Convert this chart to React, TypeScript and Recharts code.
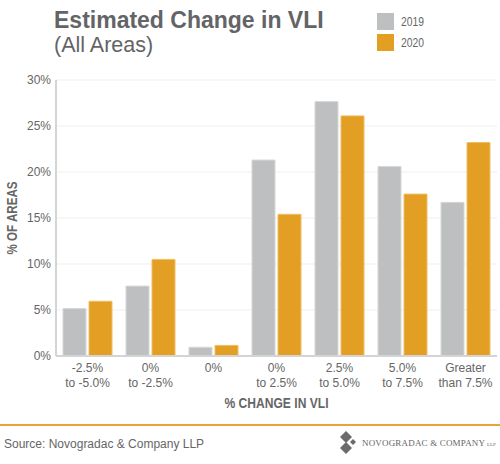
import React from 'react'
import { BarChart, Bar, XAxis, YAxis, CartesianGrid, Legend, Label } from 'recharts'

// categories (two-line tick labels split on \n)
const categories = [
  '-2.5%\nto -5.0%',
  '0%\nto -2.5%',
  '0%',
  '0%\nto 2.5%',
  '2.5%\nto 5.0%',
  '5.0%\nto 7.5%',
  'Greater\nthan 7.5%',
]
const values2019 = [5.15, 7.6, 0.95, 21.3, 27.65, 20.6, 16.7]
const values2020 = [5.95, 10.5, 1.15, 15.4, 26.1, 17.6, 23.2]
const yTicks = [0, 5, 10, 15, 20, 25, 30]

const chartData = categories.map((c, i) => ({
  name: c,
  y2019: values2019[i],
  y2020: values2020[i],
}))

const GRAY = '#BEBFC1'
const ORANGE = '#E39F24'
const TEXT = '#666666'
const FONT = '"Liberation Sans", Arial, sans-serif'

function XTick(props: any) {
  const { x, y, payload } = props
  const lines = String(payload.value).split('\n')
  return (
    <text x={x} y={y} textAnchor="middle" fill={TEXT} fontSize={12} fontFamily={FONT}>
      {lines.map((l, i) => (
        <tspan key={i} x={x} dy={i === 0 ? 16 : 15}>{l}</tspan>
      ))}
    </text>
  )
}

function LegendBox(props: any) {
  const items = props.payload || []
  return (
    <svg width={60} height={40} style={{ display: 'block' }}>
      {items.map((it: any, i: number) => (
        <g key={i}>
          <rect x={0} y={i * 21} width={17} height={17} fill={it.color} />
          <text x={24} y={i * 21 + 13} fontSize={13} fill={TEXT} fontFamily={FONT}
            textLength={23} lengthAdjust="spacingAndGlyphs">{it.value}</text>
        </g>
      ))}
    </svg>
  )
}

export default function App() {
  return (
    <div style={{ position: 'absolute', left: 0, top: 0, width: 500, height: 464, background: '#fff', fontFamily: FONT, overflow: 'hidden' }}>
      <div style={{ position: 'absolute', left: 54, top: 9, fontSize: 23, fontWeight: 'bold', color: '#636466', lineHeight: '23px', whiteSpace: 'nowrap' }}>
        Estimated Change in VLI
      </div>
      <div style={{ position: 'absolute', left: 54, top: 35, fontSize: 21.5, color: '#636466', lineHeight: '20px', whiteSpace: 'nowrap' }}>
        (All Areas)
      </div>

      <div style={{ position: 'absolute', left: 0, top: 0 }}>
        <BarChart width={500} height={420} data={chartData}
          margin={{ top: 80, right: 3, left: 0, bottom: 0 }} barSize={23} barGap={3}>
          <CartesianGrid vertical={false} stroke="#EFEFEF" />
          <XAxis dataKey="name" height={64} interval={0} tickLine={false} tickSize={0} tickMargin={0}
            axisLine={{ stroke: '#D4D4D4', strokeWidth: 2 }} tick={<XTick />}>
            <Label content={(p: any) => {
              const vb = p.viewBox
              return (
                <text x={vb.x + vb.width / 2} y={408} textAnchor="middle" fill={TEXT}
                  fontSize={14} fontWeight="bold" fontFamily={FONT}
                  textLength={104} lengthAdjust="spacingAndGlyphs">% CHANGE IN VLI</text>
              )
            }} />
          </XAxis>
          <YAxis width={56} domain={[0, 30]} ticks={yTicks} tickFormatter={(v) => `${v}%`}
            tickLine={false} tickSize={0} tickMargin={5}
            axisLine={{ stroke: '#D4D4D4', strokeWidth: 2 }}
            tick={{ fill: TEXT, fontSize: 12, fontFamily: FONT }}>
            <Label content={(p: any) => {
              const vb = p.viewBox
              const cy = vb.y + vb.height / 2
              return (
                <text x={17} y={cy} transform={`rotate(-90 17 ${cy})`} textAnchor="middle"
                  fill={TEXT} fontSize={14} fontWeight="bold" fontFamily={FONT}
                  textLength={73} lengthAdjust="spacingAndGlyphs">% OF AREAS</text>
              )
            }} />
          </YAxis>
          <Legend layout="vertical" align="center" verticalAlign="middle" content={<LegendBox />}
            wrapperStyle={{ position: 'absolute', left: 377, top: 13, width: 60, height: 40 }} />
          <Bar dataKey="y2019" name="2019" fill={GRAY} stroke="#D6D7D9" strokeWidth={1} isAnimationActive={false} />
          <Bar dataKey="y2020" name="2020" fill={ORANGE} stroke="#F0BE62" strokeWidth={1} isAnimationActive={false} />
        </BarChart>
      </div>

      <div style={{ position: 'absolute', left: 0, top: 424, width: 500, height: 2, background: '#E8A33A' }} />
      <div style={{ position: 'absolute', left: 4, top: 437, fontSize: 12, color: TEXT, whiteSpace: 'nowrap' }}>
        Source: Novogradac &amp; Company LLP
      </div>
      <svg style={{ position: 'absolute', left: 330, top: 428 }} width={170} height={34}>
        <polygon points="16,3 22,9 16,15 10,9" fill="#6B6B6B" />
        <polygon points="23,11 26,14 23,17 20,14" fill="#6B6B6B" />
        <polygon points="16,14 22,20 16,26 10,20" fill="#6B6B6B" />
        <text x={32} y={18} fontSize={9} fill={TEXT} fontFamily='"Liberation Serif", serif'
          textLength={123} lengthAdjust="spacing">NOVOGRADAC &amp; COMPANY</text>
        <text x={157} y={18} fontSize={5} fill={TEXT} fontFamily='"Liberation Serif", serif'>LLP</text>
      </svg>
    </div>
  )
}
